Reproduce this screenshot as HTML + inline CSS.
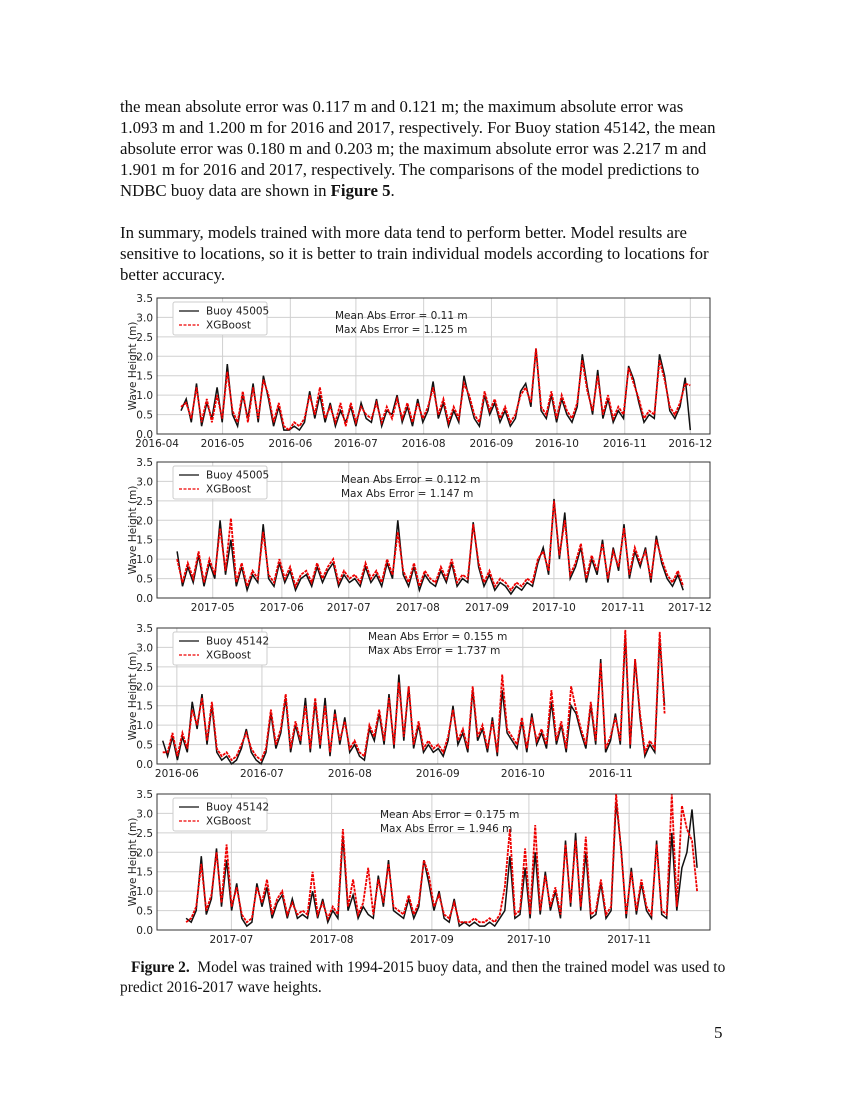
<!DOCTYPE html>
<html><head><meta charset="utf-8">
<style>
body{margin:0;background:#fff;}
#page{position:relative;width:850px;height:1100px;background:#fff;overflow:hidden;font-family:"Liberation Serif",serif;color:#111;}
.ln{position:absolute;left:120px;font-size:16.8px;white-space:nowrap;line-height:20px;}
.cap{font-size:15.4px;}
svg text{font-family:"DejaVu Sans","Liberation Sans",sans-serif;}
</style></head><body>
<div id="page">
<div class="ln" style="top:97px">the mean absolute error was 0.117 m and 0.121 m; the maximum absolute error was</div>
<div class="ln" style="top:118px">1.093 m and 1.200 m for 2016 and 2017, respectively. For Buoy station 45142, the mean</div>
<div class="ln" style="top:139px">absolute error was 0.180 m and 0.203 m; the maximum absolute error was 2.217 m and</div>
<div class="ln" style="top:160px">1.901 m for 2016 and 2017, respectively. The comparisons of the model predictions to</div>
<div class="ln" style="top:181px">NDBC buoy data are shown in <b>Figure 5</b>.</div>
<div class="ln" style="top:223px">In summary, models trained with more data tend to perform better. Model results are</div>
<div class="ln" style="top:244px">sensitive to locations, so it is better to train individual models according to locations for</div>
<div class="ln" style="top:265px">better accuracy.</div>
<svg id="fig" width="850" height="1100" style="position:absolute;left:0;top:0"></svg>
<div class="ln cap" style="top:958px;left:131px"><b>Figure 2.</b>&nbsp; Model was trained with 1994-2015 buoy data, and then the trained model was used to</div>
<div class="ln cap" style="top:978px">predict 2016-2017 wave heights.</div>
<div class="ln" style="top:1023px;left:714px;font-size:17px">5</div>
</div>
<script>
// ---- data ----
const yTicks=[0,0.5,1.0,1.5,2.0,2.5,3.0,3.5];
const c1Ticks=["2016-04-01","2016-05-01","2016-06-01","2016-07-01","2016-08-01","2016-09-01","2016-10-01","2016-11-01","2016-12-01"];
const c2Ticks=["2017-05-01","2017-06-01","2017-07-01","2017-08-01","2017-09-01","2017-10-01","2017-11-01","2017-12-01"];
const c3Ticks=["2016-06-01","2016-07-01","2016-08-01","2016-09-01","2016-10-01","2016-11-01"];
const c4Ticks=["2017-07-01","2017-08-01","2017-09-01","2017-10-01","2017-11-01"];
const c1Domain=["2016-04-01","2016-12-10"],c2Domain=["2017-04-06","2017-12-10"],c3Domain=["2016-05-25","2016-12-06"],c4Domain=["2017-06-08","2017-11-26"];
const c1Range=["2016-04-12","2016-12-01"],c2Range=["2017-04-15","2017-11-28"],c3Range=["2016-05-27","2016-11-20"],c4Range=["2017-06-17","2017-11-22"];
const c1Buoy=[0.6,0.9,0.3,1.3,0.2,0.8,0.4,1.2,0.3,1.8,0.5,0.2,1.0,0.4,1.3,0.3,1.5,0.9,0.2,0.7,0.1,0.1,0.2,0.1,0.3,1.1,0.4,1.0,0.3,0.8,0.2,0.6,0.3,0.7,0.2,0.8,0.4,0.3,0.9,0.2,0.6,0.5,1.0,0.3,0.7,0.2,0.9,0.3,0.6,1.35,0.4,0.8,0.2,0.6,0.3,1.5,0.9,0.4,0.2,1.0,0.5,0.8,0.3,0.6,0.2,0.4,1.1,1.3,0.7,2.2,0.6,0.4,1.0,0.3,0.9,0.5,0.3,0.7,2.05,1.2,0.5,1.65,0.4,0.9,0.3,0.6,0.4,1.75,1.4,0.8,0.3,0.5,0.4,2.05,1.5,0.6,0.4,0.7,1.45,0.1];
const c1Xgb=[0.7,0.8,0.4,1.2,0.3,0.9,0.3,1.0,0.4,1.6,0.6,0.3,1.1,0.3,1.2,0.4,1.4,1.0,0.3,0.8,0.2,0.1,0.3,0.2,0.4,1.0,0.5,1.2,0.4,0.7,0.3,0.8,0.2,0.8,0.3,0.7,0.5,0.4,0.8,0.3,0.7,0.4,0.9,0.4,0.8,0.3,0.8,0.4,0.7,1.2,0.5,0.9,0.3,0.7,0.4,1.3,1.0,0.5,0.3,1.1,0.6,0.9,0.4,0.7,0.3,0.5,1.0,1.2,0.8,2.2,0.7,0.5,1.1,0.4,1.0,0.6,0.4,0.8,1.9,1.1,0.6,1.5,0.5,1.0,0.4,0.7,0.5,1.7,1.3,0.9,0.4,0.6,0.5,1.9,1.4,0.7,0.5,0.8,1.3,1.25];
const c2Buoy=[1.2,0.3,0.8,0.4,1.1,0.3,0.9,0.5,2.0,0.6,1.5,0.3,0.8,0.2,0.6,0.4,1.9,0.5,0.3,0.9,0.4,0.7,0.2,0.5,0.6,0.3,0.8,0.4,0.7,0.9,0.3,0.6,0.4,0.5,0.3,0.8,0.4,0.6,0.3,0.9,0.5,2.0,0.6,0.3,0.8,0.2,0.6,0.4,0.3,0.7,0.4,0.9,0.3,0.5,0.4,1.95,0.8,0.3,0.6,0.2,0.4,0.3,0.1,0.3,0.2,0.4,0.3,0.9,1.3,0.6,2.55,1.0,2.2,0.5,0.8,1.3,0.4,1.0,0.6,1.5,0.4,1.3,0.7,1.9,0.5,1.2,0.8,1.3,0.4,1.6,0.9,0.5,0.3,0.6,0.2];
const c2Xgb=[1.0,0.4,0.9,0.5,1.2,0.4,1.0,0.6,1.8,0.7,2.05,0.4,0.9,0.3,0.7,0.5,1.7,0.6,0.4,1.0,0.5,0.8,0.3,0.6,0.7,0.4,0.9,0.5,0.8,1.0,0.4,0.7,0.5,0.6,0.4,0.9,0.5,0.7,0.4,1.0,0.6,1.7,0.7,0.4,0.9,0.3,0.7,0.5,0.4,0.8,0.5,1.0,0.4,0.6,0.5,1.9,0.9,0.4,0.7,0.3,0.5,0.4,0.2,0.4,0.3,0.5,0.4,1.0,1.2,0.7,2.5,1.1,2.0,0.6,0.9,1.4,0.5,1.1,0.7,1.4,0.5,1.2,0.8,1.8,0.6,1.3,0.9,1.2,0.5,1.5,1.0,0.6,0.4,0.7,0.3];
const c3Buoy=[0.6,0.2,0.7,0.1,0.7,0.3,1.6,0.9,1.8,0.5,1.5,0.3,0.1,0.2,0.0,0.1,0.4,0.9,0.3,0.1,0.0,0.3,1.3,0.4,0.8,1.7,0.3,1.0,0.5,1.7,0.3,1.6,0.4,1.7,0.2,1.4,0.5,1.2,0.3,0.5,0.2,0.1,0.9,0.6,1.3,0.5,1.8,0.4,2.3,0.6,2.0,0.4,1.0,0.3,0.5,0.3,0.4,0.2,0.6,1.5,0.5,0.8,0.3,1.9,0.6,0.9,0.3,1.2,0.2,1.9,0.8,0.6,0.4,1.1,0.3,1.3,0.5,0.8,0.4,1.6,0.5,1.0,0.3,1.5,1.3,0.8,0.4,1.5,0.5,2.7,0.3,0.6,1.3,0.5,3.3,0.4,2.7,1.2,0.2,0.5,0.3,3.2,1.5];
const c3Xgb=[0.3,0.3,0.8,0.2,0.8,0.4,1.4,1.0,1.7,0.6,1.6,0.4,0.2,0.3,0.1,0.2,0.5,0.8,0.4,0.2,0.1,0.4,1.4,0.5,0.9,1.8,0.4,1.1,0.6,1.5,0.4,1.7,0.5,1.5,0.3,1.3,0.6,1.1,0.4,0.6,0.3,0.2,1.0,0.7,1.4,0.6,1.7,0.5,2.1,0.7,2.0,0.5,1.1,0.4,0.6,0.4,0.5,0.3,0.7,1.4,0.6,0.9,0.4,2.0,0.7,1.0,0.4,1.1,0.3,2.3,0.9,0.7,0.5,1.2,0.4,1.2,0.6,0.9,0.5,1.9,0.6,1.1,0.4,2.0,1.4,0.9,0.5,1.6,0.6,2.6,0.4,0.7,1.2,0.6,3.45,0.5,2.7,1.3,0.3,0.6,0.4,3.4,1.3];
const c4Buoy=[0.3,0.2,0.5,1.9,0.4,0.8,2.1,0.6,1.8,0.5,1.2,0.3,0.1,0.2,1.2,0.6,1.1,0.3,0.7,0.9,0.3,0.8,0.3,0.4,0.3,1.0,0.3,0.8,0.2,0.5,0.3,2.4,0.5,0.9,0.3,0.6,0.4,0.3,1.4,0.6,1.8,0.5,0.4,0.3,0.8,0.3,0.6,1.8,1.2,0.5,1.0,0.3,0.2,0.8,0.1,0.2,0.1,0.2,0.1,0.1,0.2,0.1,0.3,0.5,1.9,0.3,0.4,1.6,0.3,2.0,0.4,1.5,0.5,1.0,0.3,2.3,0.6,2.5,0.5,2.0,0.3,0.4,1.2,0.3,0.5,3.3,2.1,0.3,1.6,0.4,1.2,0.5,0.3,2.3,0.4,0.3,2.5,0.5,1.6,2.0,3.1,1.6];
const c4Xgb=[0.2,0.3,0.6,1.7,0.5,0.9,2.0,0.7,2.2,0.6,1.1,0.4,0.2,0.3,1.1,0.7,1.3,0.4,0.8,1.0,0.4,0.7,0.4,0.5,0.4,1.5,0.4,0.7,0.3,0.6,0.4,2.6,0.6,1.3,0.4,0.7,1.6,0.4,1.3,0.7,1.7,0.6,0.5,0.4,0.9,0.4,0.7,1.8,1.4,0.6,0.9,0.4,0.3,0.7,0.2,0.2,0.2,0.3,0.2,0.2,0.3,0.2,0.4,1.1,2.6,0.4,0.5,2.1,0.4,2.7,0.5,1.4,0.6,1.1,0.4,2.2,0.7,2.3,0.6,2.4,0.4,0.5,1.3,0.4,0.6,3.5,2.0,0.4,1.5,0.5,1.3,0.6,0.4,2.2,0.5,0.4,3.5,0.6,3.2,2.6,2.3,1.0];
const legendBuoy=["Buoy 45005","Buoy 45005","Buoy 45142","Buoy 45142"];
const meanErr=["Mean Abs Error = 0.11 m","Mean Abs Error = 0.112 m","Mean Abs Error = 0.155 m","Mean Abs Error = 0.175 m"];
const maxErr=["Max Abs Error = 1.125 m","Max Abs Error = 1.147 m","Max Abs Error = 1.737 m","Max Abs Error = 1.946 m"];

const NS="http://www.w3.org/2000/svg";
const svg=document.getElementById('fig');
function mk(tag,attrs,parent){const e=document.createElementNS(NS,tag);for(const k in attrs)e.setAttribute(k,attrs[k]);(parent||svg).appendChild(e);return e;}
const day=s=>Date.parse(s+"T00:00:00Z")/86400000;
const charts=[
 {top:298,ticks:c1Ticks,domain:c1Domain,range:c1Range,buoy:c1Buoy,xgb:c1Xgb,ann:[335,319]},
 {top:462,ticks:c2Ticks,domain:c2Domain,range:c2Range,buoy:c2Buoy,xgb:c2Xgb,ann:[341,483]},
 {top:628,ticks:c3Ticks,domain:c3Domain,range:c3Range,buoy:c3Buoy,xgb:c3Xgb,ann:[368,640]},
 {top:794,ticks:c4Ticks,domain:c4Domain,range:c4Range,buoy:c4Buoy,xgb:c4Xgb,ann:[380,818]}
];
const L=157,R=710,H=136;
charts.forEach((c,i)=>{
 const g=mk('g',{});
 
 
 const d0=day(c.domain[0]),d1=day(c.domain[1]);
 const xs=d=>L+(d-d0)/(d1-d0)*(R-L);
 const ys=v=>c.top+H-v/3.5*H;
 yTicks.forEach(v=>{
  const gl=mk('line',{x1:L,x2:R,y1:ys(v),y2:ys(v),stroke:'#d0d0d0','stroke-width':1},g);
  
  
  const t=mk('text',{x:L-4,y:ys(v)+4,'font-size':10.5,'text-anchor':'end',fill:'#222'},g);
  t.textContent=v.toFixed(1);
  
  
 });
 c.ticks.forEach(s=>{
  const x=xs(day(s));
  const gl=mk('line',{x1:x,x2:x,y1:c.top,y2:c.top+H,stroke:'#d0d0d0','stroke-width':1},g);
  
  
  const t=mk('text',{x:x,y:c.top+H+13,'font-size':10.5,'text-anchor':'middle',fill:'#222'},g);
  t.textContent=s.slice(0,7);
  
  
 });
 const yl=mk('text',{x:0,y:0,'font-size':10.5,'text-anchor':'middle',fill:'#222',transform:`translate(136,${c.top+H/2}) rotate(-90)`},g);
 yl.textContent='Wave Height (m)';
 
 
 const r0=day(c.range[0]),r1=day(c.range[1]);
 function path(vals){const n=vals.length;return vals.map((v,k)=>(k?'L':'M')+xs(r0+(r1-r0)*k/(n-1)).toFixed(1)+','+ys(Math.min(v,3.5)).toFixed(1)).join('');}
 const pb=mk('path',{d:path(c.buoy),fill:'none',stroke:'#111','stroke-width':1.5},g);
 
 
 const px=mk('path',{d:path(c.xgb),fill:'none',stroke:'#ee0000','stroke-width':1.8,'stroke-dasharray':'3,1'},g);
 
 
 const fr=mk('rect',{x:L,y:c.top,width:R-L,height:H,fill:'none',stroke:'#333','stroke-width':1},g);
 
 
 const lg=mk('g',{},g);
 
 
 mk('rect',{x:L+16,y:c.top+4,width:94,height:33,fill:'#fff',stroke:'#ccc','stroke-width':1,rx:2},lg);
 mk('line',{x1:L+22,x2:L+42,y1:c.top+13,y2:c.top+13,stroke:'#111','stroke-width':1.2},lg);
 mk('line',{x1:L+22,x2:L+42,y1:c.top+27,y2:c.top+27,stroke:'#e00','stroke-width':1.3,'stroke-dasharray':'3,1.5'},lg);
 const t1=mk('text',{x:L+49,y:c.top+16.5,'font-size':10.5,fill:'#222'},lg);t1.textContent=legendBuoy[i];
 
 
 const t2=mk('text',{x:L+49,y:c.top+30.5,'font-size':10.5,fill:'#222'},lg);t2.textContent='XGBoost';
 
 
 const a1=mk('text',{x:c.ann[0],y:c.ann[1],'font-size':10.5,fill:'#222'},g);a1.textContent=meanErr[i];
 
 
 const a2=mk('text',{x:c.ann[0],y:c.ann[1]+14,'font-size':10.5,fill:'#222'},g);a2.textContent=maxErr[i];
 
 
});
</script>
</body></html>
